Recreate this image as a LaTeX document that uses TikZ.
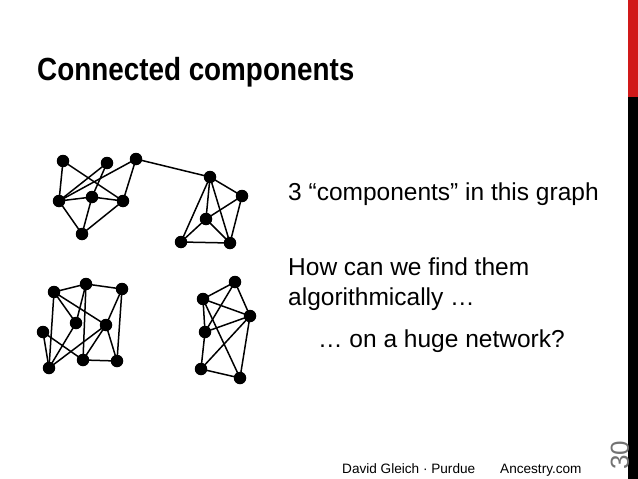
\documentclass[tikz,border=0pt]{standalone}
\usepackage{fontspec}
\setmainfont{Liberation Sans}
\begin{document}
\begin{tikzpicture}[x=1pt,y=-1pt,
  v/.style={circle,fill=black,inner sep=0pt,minimum size=12.5pt},
  e/.style={line width=1.5pt},
  body/.style={anchor=base west,inner sep=0pt,font=\fontsize{24.5}{26}\selectfont},
  foot/.style={anchor=base west,inner sep=0pt,font=\fontsize{13.6}{15}\selectfont}]
\useasboundingbox (0,0) rectangle (638,479);
\fill[red!80!black!90] (628,0) rectangle (638,97);
\fill[black] (628,97) rectangle (638,479);
\node[anchor=base west,inner sep=0pt] (title) at (37,80) {\scalebox{0.87}[1]{\fontsize{32}{34}\selectfont\bfseries Connected components}};
\node[body] (t1) at (288,200) {3 “components” in this graph};
\node[body] (t2) at (288,275) {How can we find them};
\node[body] (t3) at (288,305) {algorithmically …};
\node[body] (t4) at (318,347) {… on a huge network?};
\node[foot] (f1) at (342,473) {David Gleich · Purdue};
\node[foot] (f2) at (500,473) {Ancestry.com};
\node[rotate=90,text=black!55,inner sep=0pt] (pg) at (620,455) {\fontsize{26}{28}\selectfont 30};
\foreach \n/\x/\y in {A/63/161,B/107/163,C/136/159,D/59/201,E/92/197,F/123/201,G/82/234,H/210/177,I/242/196,J/206/219,K/181/242,L/230/243,
 a/54/292,b/86/284,c/122/289,d/43/332,e/76/323,f/106/325,g/49/368,h/83/360,i/117/361,
 p/235/282,q/203/299,r/250/316,s/205/332,t/201/369,u/240/378}
  \coordinate (\n) at (\x,\y);
\foreach \s/\t in {A/D,A/F,B/D,B/E,C/D,C/F,D/E,E/F,D/G,E/G,G/F,C/H,H/I,H/K,H/J,H/L,I/J,I/L,J/K,J/L,K/L,
 a/b,b/c,a/g,a/e,a/f,b/e,b/h,c/f,c/i,d/g,d/h,e/g,f/g,f/h,f/i,h/i,
 p/q,p/s,p/r,q/r,q/s,q/u,r/s,r/t,r/u,s/t,t/u}
  \draw[e] (\s) -- (\t);
\foreach \n in {A,B,C,D,E,F,G,H,I,J,K,L,a,b,c,d,e,f,g,h,i,p,q,r,s,t,u}
  \node[v] (n\n) at (\n) {};
\end{tikzpicture}
\end{document}
